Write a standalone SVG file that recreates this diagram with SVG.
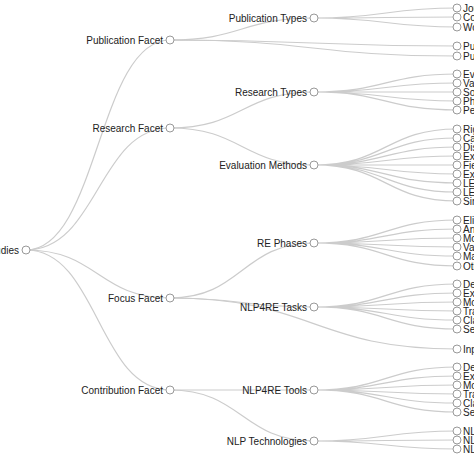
<svg xmlns="http://www.w3.org/2000/svg" width="474" height="474" viewBox="0 0 474 474">
<style>
.l{fill:none;stroke:#ccc;stroke-width:1.2}
circle{fill:#fff;stroke:#999;stroke-width:1}
text{font-family:"Liberation Sans",Arial,sans-serif;font-size:10px;fill:#222}
.i{text-anchor:end}
</style>
<rect width="474" height="474" fill="#fff"/>
<g id="connectors">
<path class="l" d="M26,250C98,250 98,40 170,40"/>
<path class="l" d="M26,250C98,250 98,128 170,128"/>
<path class="l" d="M26,250C98,250 98,298 170,298"/>
<path class="l" d="M26,250C98,250 98,390 170,390"/>
<path class="l" d="M170,40C242,40 242,18 314,18"/>
<path class="l" d="M170,40C313,40 313,46 457,46"/>
<path class="l" d="M170,40C313,40 313,56 457,56"/>
<path class="l" d="M170,128C242,128 242,92 314,92"/>
<path class="l" d="M170,128C242,128 242,165 314,165"/>
<path class="l" d="M170,298C242,298 242,243 314,243"/>
<path class="l" d="M170,298C242,298 242,307 314,307"/>
<path class="l" d="M170,298C313,298 313,349 457,349"/>
<path class="l" d="M170,390C242,390 242,390 314,390"/>
<path class="l" d="M170,390C242,390 242,441 314,441"/>
<path class="l" d="M314,18C386,18 386,8 457,8M314,18C386,18 386,17 457,17M314,18C386,18 386,27 457,27"/>
<path class="l" d="M314,92C386,92 386,74 457,74M314,92C386,92 386,83 457,83M314,92C386,92 386,92 457,92M314,92C386,92 386,101 457,101M314,92C386,92 386,110 457,110"/>
<path class="l" d="M314,165C386,165 386,129 457,129M314,165C386,165 386,138 457,138M314,165C386,165 386,147 457,147M314,165C386,165 386,156 457,156M314,165C386,165 386,165 457,165M314,165C386,165 386,174 457,174M314,165C386,165 386,183 457,183M314,165C386,165 386,192 457,192M314,165C386,165 386,201 457,201"/>
<path class="l" d="M314,243C386,243 386,220 457,220M314,243C386,243 386,229 457,229M314,243C386,243 386,238 457,238M314,243C386,243 386,247 457,247M314,243C386,243 386,256 457,256M314,243C386,243 386,266 457,266"/>
<path class="l" d="M314,307C386,307 386,284 457,284M314,307C386,307 386,293 457,293M314,307C386,307 386,302 457,302M314,307C386,307 386,311 457,311M314,307C386,307 386,320 457,320M314,307C386,307 386,329 457,329"/>
<path class="l" d="M314,390C386,390 386,367 457,367M314,390C386,390 386,376 457,376M314,390C386,390 386,385 457,385M314,390C386,390 386,394 457,394M314,390C386,390 386,403 457,403M314,390C386,390 386,412 457,412"/>
<path class="l" d="M314,441C386,441 386,431 457,431M314,441C386,441 386,440 457,440M314,441C386,441 386,449 457,449"/>
</g>
<g id="root"><circle cx="26" cy="250" r="4"/><text class="i" x="19" y="253.5">NLP4RE Studies</text></g>
<g id="publication-facet"><circle cx="170" cy="40" r="4"/><text class="i" x="163" y="43.5">Publication Facet</text></g>
<g id="research-facet"><circle cx="170" cy="128" r="4"/><text class="i" x="163" y="131.5">Research Facet</text></g>
<g id="focus-facet"><circle cx="170" cy="298" r="4"/><text class="i" x="163" y="301.5">Focus Facet</text></g>
<g id="contribution-facet"><circle cx="170" cy="390" r="4"/><text class="i" x="163" y="393.5">Contribution Facet</text></g>
<g id="publication-types"><circle cx="314" cy="18" r="4"/><text class="i" x="307" y="21.5">Publication Types</text></g>
<g id="research-types"><circle cx="314" cy="92" r="4"/><text class="i" x="307" y="95.5">Research Types</text></g>
<g id="evaluation-methods"><circle cx="314" cy="165" r="4"/><text class="i" x="307" y="168.5">Evaluation Methods</text></g>
<g id="re-phases"><circle cx="314" cy="243" r="4"/><text class="i" x="307" y="246.5">RE Phases</text></g>
<g id="nlp4re-tasks"><circle cx="314" cy="307" r="4"/><text class="i" x="307" y="310.5">NLP4RE Tasks</text></g>
<g id="nlp4re-tools"><circle cx="314" cy="390" r="4"/><text class="i" x="307" y="393.5">NLP4RE Tools</text></g>
<g id="nlp-technologies"><circle cx="314" cy="441" r="4"/><text class="i" x="307" y="444.5">NLP Technologies</text></g>
<g id="leaves">
<circle cx="457" cy="8" r="4"/><text x="463" y="11.5">Journal</text>
<circle cx="457" cy="17" r="4"/><text x="463" y="20.5">Conference</text>
<circle cx="457" cy="27" r="4"/><text x="463" y="30.5">Workshop</text>
<circle cx="457" cy="46" r="4"/><text x="463" y="49.5">Publication Year</text>
<circle cx="457" cy="56" r="4"/><text x="463" y="59.5">Publication Venue</text>
<circle cx="457" cy="74" r="4"/><text x="463" y="77.5">Evaluation Research</text>
<circle cx="457" cy="83" r="4"/><text x="463" y="86.5">Validation Research</text>
<circle cx="457" cy="92" r="4"/><text x="463" y="95.5">Solution Proposal</text>
<circle cx="457" cy="101" r="4"/><text x="463" y="104.5">Philosophical Paper</text>
<circle cx="457" cy="110" r="4"/><text x="463" y="113.5">Personal Experience</text>
<circle cx="457" cy="129" r="4"/><text x="463" y="132.5">Rigorous</text>
<circle cx="457" cy="138" r="4"/><text x="463" y="141.5">Case Study</text>
<circle cx="457" cy="147" r="4"/><text x="463" y="150.5">Discussion</text>
<circle cx="457" cy="156" r="4"/><text x="463" y="159.5">Experiment</text>
<circle cx="457" cy="165" r="4"/><text x="463" y="168.5">Field Study</text>
<circle cx="457" cy="174" r="4"/><text x="463" y="177.5">Example</text>
<circle cx="457" cy="183" r="4"/><text x="463" y="186.5">LE</text>
<circle cx="457" cy="192" r="4"/><text x="463" y="195.5">LE</text>
<circle cx="457" cy="201" r="4"/><text x="463" y="204.5">Simulation</text>
<circle cx="457" cy="220" r="4"/><text x="463" y="223.5">Elicitation</text>
<circle cx="457" cy="229" r="4"/><text x="463" y="232.5">Analysis</text>
<circle cx="457" cy="238" r="4"/><text x="463" y="241.5">Modelling</text>
<circle cx="457" cy="247" r="4"/><text x="463" y="250.5">Validation</text>
<circle cx="457" cy="256" r="4"/><text x="463" y="259.5">Management</text>
<circle cx="457" cy="266" r="4"/><text x="463" y="269.5">Other</text>
<circle cx="457" cy="284" r="4"/><text x="463" y="287.5">Detection</text>
<circle cx="457" cy="293" r="4"/><text x="463" y="296.5">Extraction</text>
<circle cx="457" cy="302" r="4"/><text x="463" y="305.5">Modelling</text>
<circle cx="457" cy="311" r="4"/><text x="463" y="314.5">Tracing</text>
<circle cx="457" cy="320" r="4"/><text x="463" y="323.5">Classification</text>
<circle cx="457" cy="329" r="4"/><text x="463" y="332.5">Search</text>
<circle cx="457" cy="349" r="4"/><text x="463" y="352.5">Input</text>
<circle cx="457" cy="367" r="4"/><text x="463" y="370.5">Detection</text>
<circle cx="457" cy="376" r="4"/><text x="463" y="379.5">Extraction</text>
<circle cx="457" cy="385" r="4"/><text x="463" y="388.5">Modelling</text>
<circle cx="457" cy="394" r="4"/><text x="463" y="397.5">Tracing</text>
<circle cx="457" cy="403" r="4"/><text x="463" y="406.5">Classification</text>
<circle cx="457" cy="412" r="4"/><text x="463" y="415.5">Search</text>
<circle cx="457" cy="431" r="4"/><text x="463" y="434.5">NLP Techniques</text>
<circle cx="457" cy="440" r="4"/><text x="463" y="443.5">NLP Tools</text>
<circle cx="457" cy="449" r="4"/><text x="463" y="452.5">NLP Resources</text>
</g>
</svg>
